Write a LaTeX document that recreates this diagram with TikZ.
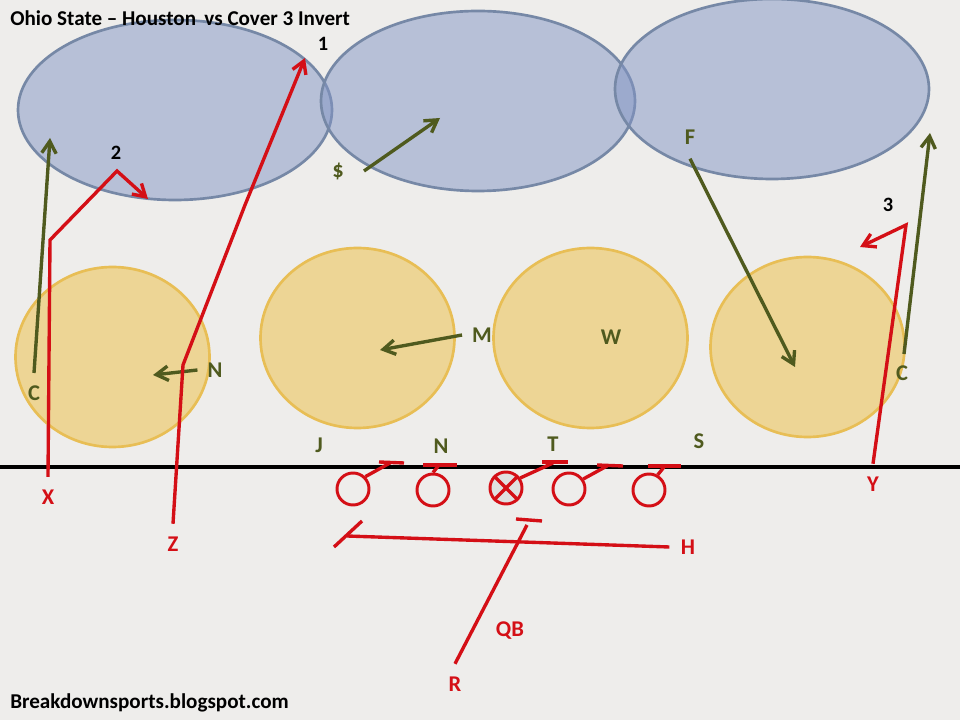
\documentclass[tikz,border=0pt]{standalone}
\usepackage{fontspec}
\setmainfont{Carlito}
\usetikzlibrary{arrows.meta,positioning}
\definecolor{fieldgray}{HTML}{EEEDEB}
\definecolor{zoneblue}{HTML}{8295C5}
\definecolor{zoneline}{HTML}{7688A6}
\definecolor{hookfill}{HTML}{EDD595}
\definecolor{hookline}{HTML}{E8BE55}
\definecolor{routered}{HTML}{D40F16}
\definecolor{defgreen}{HTML}{4F5A1E}
\tikzset{
  deep/.style={draw=zoneline, line width=1.9pt, fill=zoneblue, fill opacity=0.5},
  hook/.style={draw=hookline, line width=1.9pt, fill=hookfill},
  route/.style={draw=routered, line width=2.4pt, line join=miter},
  cover/.style={draw=defgreen, line width=2.4pt},
  lineman/.style={circle, draw=routered, line width=2.1pt, minimum size=0.8cm, inner sep=0pt},
  redlabel/.style={text=routered, inner xsep=8pt, inner ysep=9pt, font=\bfseries\fontsize{16}{18}\selectfont},
  greenlabel/.style={text=defgreen, inner xsep=7pt, inner ysep=10pt, font=\bfseries\fontsize{16}{18}\selectfont},
  blacklabel/.style={text=black, font=\bfseries\fontsize{14.5}{16}\selectfont},
  credit/.style={anchor=west, inner sep=0pt, font=\bfseries\fontsize{15}{17}\selectfont}
}

\begin{document}
\begin{tikzpicture}[x=0.025cm, y=-0.025cm, >={Straight Barb[length=3mm,width=3.6mm]}]
  \useasboundingbox (0,0) rectangle (960,720);
  \clip (0,0) rectangle (960,720);
  \fill[fieldgray] (0,0) rectangle (960,720);

  % deep zones
  \draw[deep] (175,110) ellipse (157 and 90);
  \draw[deep] (478,101) ellipse (157 and 90);
  \draw[deep] (772,89) ellipse (157 and 90);
  % hook zones
  \draw[hook] (112.5,357) ellipse (97 and 90);
  \draw[hook] (357.5,338) ellipse (97 and 90);
  \draw[hook] (590.5,338) ellipse (97 and 90);
  \draw[hook] (807.5,347) ellipse (97 and 90);

  % line of scrimmage
  \coordinate (losl) at (0,467);
  \coordinate (losr) at (960,467);
  \draw[line width=2.2pt] (losl) -- (losr);

  \node at (10,18) [credit] (title) {Ohio State – Houston\,\ vs Cover 3 Invert};
  \node at (10,703) [credit] (site) {Breakdownsports.blogspot.com};

  % route numbers
  \node at (323,44) [blacklabel] (one) {1};
  \node at (116,153) [blacklabel] (two) {2};
  \node at (888,205) [blacklabel] (three) {3};

  % defense
  \node at (34,393) [greenlabel] (cleft) {C};
  \node at (215,370) [greenlabel] (nickel) {N};
  \node at (482,335) [greenlabel] (mike) {M};
  \node at (611,337) [greenlabel] (will) {W};
  \node at (902,373) [greenlabel] (cright) {C};
  \node at (338,171) [greenlabel] (money) {\$};
  \node at (690,137) [greenlabel] (free) {F};
  \node at (319,445) [greenlabel] (jack) {J};
  \node at (441,446) [greenlabel] (nose) {N};
  \node at (553,444) [greenlabel] (tackle) {T};
  \node at (699,441) [greenlabel] (sam) {S};

  % offense
  \node at (48,497) [redlabel] (x) {X};
  \node at (173,544) [redlabel] (z) {Z};
  \node at (873,484) [redlabel] (y) {Y};
  \node at (688,547) [redlabel] (h) {H};
  \node at (510,631) [redlabel] (qb) {QB};
  \node at (455,684) [redlabel] (r) {R};

  \node at (353,489) [lineman] (lt) {};
  \node at (433,490) [lineman] (lg) {};
  \node at (506,488) [lineman, fill=black!12] (cen) {};
  \node at (569,489) [lineman] (rg) {};
  \node at (649,490) [lineman] (rt) {};
  \draw[route] (cen.north west) -- (cen.south east);
  \draw[route] (cen.north east) -- (cen.south west);

  % coverage drops
  \coordinate (cleftend) at (50,138);
  \coordinate (crightend) at (930,133);
  \coordinate (nickelend) at (153,375);
  \coordinate (mikeend) at (380,350);
  \coordinate (moneyend) at (440,118);
  \coordinate (freeend) at (795,367);
  \draw[cover,->] (34,373) -- (cleftend);
  \draw[cover,->] (904,354) -- (crightend);
  \draw[cover,->] (nickel.west) -- (nickelend);
  \draw[cover,->] (mike.west) -- (mikeend);
  \draw[cover,->] (364,171) -- (moneyend);
  \draw[cover,->] (free.south) -- (freeend);

  % routes
  \coordinate (xbreak) at (50,240);
  \coordinate (xtop) at (117,171);
  \coordinate (xend) at (148,199);
  \coordinate (zbreak) at (183,365);
  \coordinate (zend) at (305,58);
  \coordinate (ytop) at (906,225);
  \coordinate (yend) at (860,247);
  \draw[route,->] (x.north) -- (xbreak) -- (xtop) -- (xend);
  \draw[route,->] (z.north) -- (zbreak) -- (245,205) -- (zend);
  \draw[route,->] (y.north) -- (ytop) -- (yend);

  % blocks
  \coordinate (ltbar) at (390,463);
  \coordinate (lgbar) at (439,465);
  \coordinate (cenbar) at (553,463);
  \coordinate (rgbar) at (607,466);
  \coordinate (rtbar) at (664,467);
  \draw[route] (lt.45) -- (ltbar);
  \draw[route] (379,462) -- (404,463);
  \draw[route] (lg.north) -- (lgbar);
  \draw[route] (423,465) -- (457,465);
  \draw[route] (cen.35) -- (cenbar);
  \draw[route] (542,462) -- (568,462);
  \draw[route] (rg.35) -- (rgbar);
  \draw[route] (597,465) -- (623,466);
  \draw[route] (rt.60) -- (rtbar);
  \draw[route] (648,466) -- (681,466);

  % backfield
  \coordinate (hend) at (347,536);
  \coordinate (rend) at (527,525);
  \draw[route] (h.west) -- (hend);
  \draw[route] (334,547) -- (362,521);
  \draw[route] (r.north) -- (rend);
  \draw[route] (516,519) -- (542,521);
\end{tikzpicture}
\end{document}
